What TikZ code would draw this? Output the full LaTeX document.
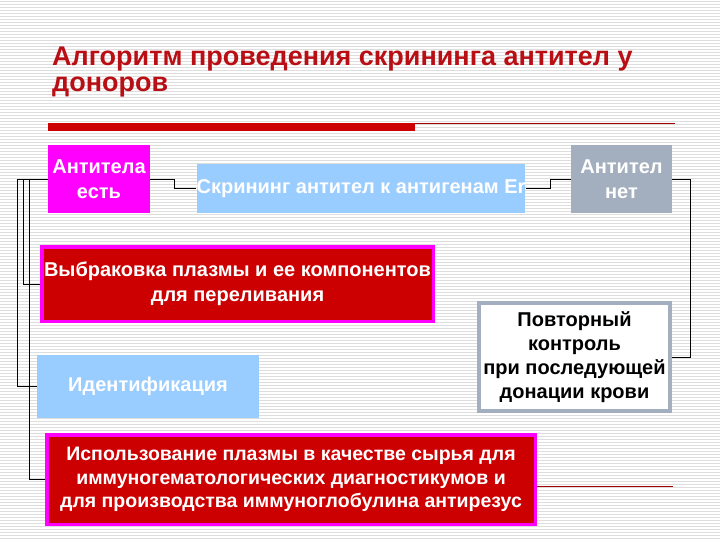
\documentclass[tikz,border=0pt]{standalone}
\usepackage{fontspec}
\setmainfont{Liberation Sans}
\definecolor{titlered}{RGB}{185,15,20}
\definecolor{boxred}{RGB}{204,0,0}
\definecolor{mag}{RGB}{255,0,255}
\definecolor{lblue}{RGB}{153,204,255}
\definecolor{greyblue}{RGB}{163,175,190}
\definecolor{stripe}{RGB}{222,222,222}
\tikzset{
  box/.style={rectangle, inner sep=0pt, align=center, font=\bfseries\fontsize{20}{25}\selectfont},
  magbox/.style={box, fill=mag, text=white},
  bluebox/.style={box, fill=lblue, text=white},
  greybox/.style={box, fill=greyblue, text=white},
  redbox/.style={box, fill=boxred, draw=mag, line width=3.5pt, text=white},
  ctrlbox/.style={box, fill=white, draw=greyblue, line width=4pt, text=black},
  conn/.style={draw=black, line width=0.9pt},
  redline/.style={draw=boxred!80!black, line width=1pt},
  titletext/.style={anchor=base west, text=titlered, font=\bfseries\fontsize{27}{28}\selectfont, inner sep=0pt}
}
\begin{document}
\begin{tikzpicture}[x=1pt,y=-1pt]
\useasboundingbox (0,0) rectangle (720,540);
\fill[white] (0,0) rectangle (720,540);
\foreach \yy in {1,4,...,540} \draw[stripe, line width=0.8pt] (0,\yy) -- (720,\yy);
% title
\node[titletext] (t1) at (52,66) {Алгоритм проведения скрининга антител у};
\node[titletext] (t2) at (52,92) {доноров};
% top rule
\fill[boxred] (48,123) rectangle (415,131);
\draw[redline] (415,123.5) -- (675,123.5);
% boxes
\node[magbox, minimum width=102pt, minimum height=68pt] (e) at (99,179) {Антитела\\есть};
\node[bluebox, minimum width=324pt, minimum height=49pt] (s) at (361,188.5) {Скрининг антител к антигенам Er};
\node[greybox, minimum width=101pt, minimum height=68pt] (n) at (621.5,179) {Антител\\нет};
\node[redbox, minimum width=391.5pt, minimum height=74.5pt] (v) at (237.5,284) {Выбраковка плазмы и ее компонентов\\для переливания};
\node[bluebox, minimum width=222pt, minimum height=63pt] (i) at (148,386.5) {Идентификация};
\node[ctrlbox, minimum width=191pt, minimum height=108pt, font=\bfseries\fontsize{20}{24}\selectfont] (p) at (574.5,357) {Повторный\\контроль\\при последующей\\донации крови};
\node[redbox, minimum width=488.5pt, minimum height=89.5pt, font=\bfseries\fontsize{19.5}{23.5}\selectfont] (u) at (291,479.5) {Использование плазмы в качестве сырья для\\иммуногематологических диагностикумов и\\для производства иммуноглобулина антирезус};
% connectors
\draw[conn] (e.east) -- ++(24,0) |- (s.west);
\draw[conn] (s.east) -- ++(25,0) |- (n.west);
\draw[conn] (n.east) -- ++(18,0) |- (p.east);
\draw[conn] (e.west) -- ++(-30,0) |- (i.west);
\draw[conn] (e.west) -- ++(-24,0) |- (v.west);
\draw[conn] (e.west) -- ++(-18,0) |- (u.west);
\coordinate (r) at (673,486);
\draw[redline] (u.east |- r) -- (r);
\end{tikzpicture}
\end{document}
